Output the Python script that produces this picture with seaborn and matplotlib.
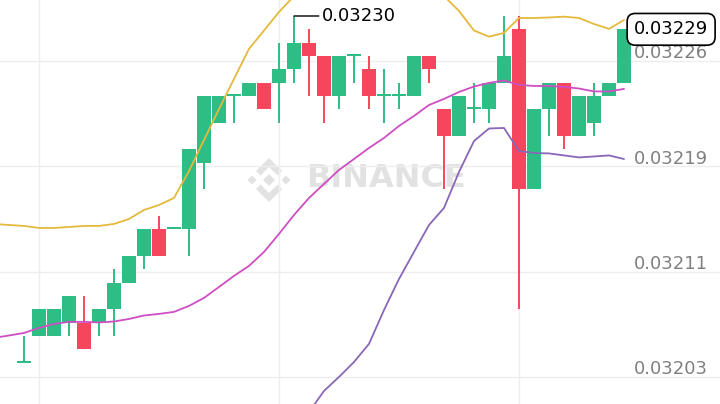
"""
Candlestick chart with Bollinger bands (Binance style), saved to out.png.
"""
import matplotlib
matplotlib.use("Agg")
import matplotlib.pyplot as plt
import matplotlib.patches as mpatches
import numpy as np
import pandas as pd
import seaborn as sns

# ---------------------------------------------------------------------------
# data
# ---------------------------------------------------------------------------
OPEN = [0.03204, 0.03206, 0.03206, 0.03207, 0.03207, 0.03207, 0.03208, 0.03210,
        0.03212, 0.03214, 0.03214, 0.03214, 0.03219, 0.03222, 0.03224, 0.03224,
        0.03225, 0.03225, 0.03226, 0.03228, 0.03227, 0.03224, 0.03227, 0.03226,
        0.03224, 0.03224, 0.03224, 0.03227, 0.03223, 0.03221, 0.03223, 0.03223,
        0.03225, 0.03229, 0.03217, 0.03223, 0.03225, 0.03221, 0.03222, 0.03224,
        0.03225]
HIGH = [0.03206, 0.03208, 0.03208, 0.03209, 0.03209, 0.03208, 0.03211, 0.03212,
        0.03214, 0.03215, 0.03214, 0.03220, 0.03224, 0.03224, 0.03224, 0.03225,
        0.03225, 0.03228, 0.03230, 0.03229, 0.03227, 0.03227, 0.03227, 0.03227,
        0.03226, 0.03225, 0.03227, 0.03227, 0.03223, 0.03224, 0.03225, 0.03225,
        0.03230, 0.03230, 0.03223, 0.03225, 0.03225, 0.03224, 0.03225, 0.03225,
        0.03229]
LOW = [0.03204, 0.03206, 0.03206, 0.03206, 0.03205, 0.03206, 0.03206, 0.03210,
       0.03211, 0.03212, 0.03214, 0.03212, 0.03217, 0.03222, 0.03222, 0.03224,
       0.03223, 0.03222, 0.03225, 0.03224, 0.03222, 0.03223, 0.03225, 0.03223,
       0.03222, 0.03223, 0.03224, 0.03225, 0.03217, 0.03221, 0.03222, 0.03222,
       0.03225, 0.03208, 0.03217, 0.03221, 0.03220, 0.03221, 0.03221, 0.03224,
       0.03225]
CLOSE = [0.03204, 0.03208, 0.03208, 0.03209, 0.03205, 0.03208, 0.03210, 0.03212,
         0.03214, 0.03212, 0.03214, 0.03220, 0.03224, 0.03224, 0.03224, 0.03225,
         0.03223, 0.03226, 0.03228, 0.03227, 0.03224, 0.03227, 0.03227, 0.03224,
         0.03224, 0.03224, 0.03227, 0.03226, 0.03221, 0.03224, 0.03223, 0.03225,
         0.03227, 0.03217, 0.03223, 0.03225, 0.03221, 0.03224, 0.03224, 0.03225,
         0.03229]

# Bollinger bands, upper / middle start two candles before the first visible one
BAND_START = -2
BB_UPPER = [0.0321440, 0.0321432, 0.0321425, 0.0321410, 0.0321410, 0.0321417,
            0.0321425, 0.0321425, 0.0321440, 0.0321477, 0.0321545, 0.0321582,
            0.0321635, 0.0321837, 0.0322070, 0.0322302, 0.0322528, 0.0322753,
            0.0322891, 0.0323030, 0.0323150, 0.0323240, 0.0323293, 0.0323368,
            0.0323420, 0.0323450, 0.0323375, 0.0323323, 0.0323270, 0.0323233,
            0.0323150, 0.0323038, 0.0322891, 0.0322845, 0.0322873, 0.0322985,
            0.0322985, 0.0322989, 0.0322995, 0.0322985, 0.0322940, 0.0322903,
            0.0322970]
BB_MID = [0.0320585, 0.0320603, 0.0320622, 0.0320660, 0.0320690, 0.0320705,
          0.0320705, 0.0320701, 0.0320708, 0.0320727, 0.0320753, 0.0320765,
          0.0320780, 0.0320825, 0.0320885, 0.0320967, 0.0321050, 0.0321125,
          0.0321230, 0.0321365, 0.0321507, 0.0321635, 0.0321740, 0.0321845,
          0.0321927, 0.0322010, 0.0322085, 0.0322175, 0.0322250, 0.0322332,
          0.0322378, 0.0322430, 0.0322471, 0.0322498, 0.0322516, 0.0322483,
          0.0322475, 0.0322475, 0.0322468, 0.0322456, 0.0322434, 0.0322434,
          0.0322453]
LOWER_START = 16
BB_LOWER = [0.0319550, 0.0319669, 0.0319857, 0.0320029, 0.0320187, 0.0320292,
            0.0320404, 0.0320540, 0.0320794, 0.0321027, 0.0321230, 0.0321432,
            0.0321560, 0.0321830, 0.0322062, 0.0322156, 0.0322160, 0.0321987,
            0.0321972, 0.0321969, 0.0321954, 0.0321939, 0.0321946, 0.0321954,
            0.0321927]

GRID_VALUES = [0.0320292, 0.0321080, 0.0321871, 0.0322663]
GRID_LABELS = ["0.03203", "0.03211", "0.03219", "0.03226"]
VGRID_CANDLES = [1, 17, 33]
LAST_LABEL = "0.03229"
HIGH_LABEL = "0.03230"

GREEN = "#2EBD85"
RED = "#F6465D"
C_UPPER = "#E4B93C"
C_MID = "#CE4EC3"
C_LOWER = "#8A66B6"
WATERMARK = "#e2e2e2"

W, H = 720, 404

# ---------------------------------------------------------------------------
# frame
# ---------------------------------------------------------------------------
candles = pd.DataFrame({"open": OPEN, "high": HIGH, "low": LOW, "close": CLOSE})
candles["idx"] = np.arange(len(candles))
candles["up"] = candles["close"] >= candles["open"]

bands = pd.DataFrame({
    "idx": np.arange(BAND_START, BAND_START + len(BB_UPPER)),
    "upper": BB_UPPER,
    "mid": BB_MID,
})
lower = pd.DataFrame({
    "idx": np.arange(LOWER_START, LOWER_START + len(BB_LOWER)),
    "lower": BB_LOWER,
})

sns.set_style("white")
fig = plt.figure(figsize=(W / 100, H / 100), dpi=100)
ax = fig.add_axes([0, 0, 1, 1])
for s in ax.spines.values():
    s.set_visible(False)

ax.set_xlim(-1.6, 46.4)
ax.set_ylim(0.0320089, 0.0323120)

ax.set_yticks(GRID_VALUES)
ax.set_xticks(VGRID_CANDLES)
ax.tick_params(left=False, bottom=False, labelleft=False, labelbottom=False)
ax.grid(True, color="#eeeeee", linewidth=1.0)
ax.set_axisbelow(True)

# watermark -----------------------------------------------------------------
ax.text(386 / W, 1 - 179 / H, "BINANCE", transform=ax.transAxes,
        ha="center", va="center", fontsize=23, fontweight="bold",
        color=WATERMARK, zorder=0.5)


def px_poly(points, cx=269, cy=180):
    return [((cx + px) / W, 1 - (cy - py) / H) for px, py in points]


logo_parts = [
    [(0, 6), (6, 0), (0, -6), (-6, 0)],
    [(-17, 4.5), (-12.5, 0), (-17, -4.5), (-21.5, 0)],
    [(17, 4.5), (21.5, 0), (17, -4.5), (12.5, 0)],
    [(0, 22), (13, 9), (8.5, 4.5), (0, 13), (-8.5, 4.5), (-13, 9)],
    [(0, -22), (13, -9), (8.5, -4.5), (0, -13), (-8.5, -4.5), (-13, -9)],
]
for part in logo_parts:
    ax.add_patch(mpatches.Polygon(px_poly(part), closed=True, transform=ax.transAxes,
                                  facecolor=WATERMARK, edgecolor="none", zorder=0.5))

# candles -------------------------------------------------------------------
min_body = 1.5e-6
colors = np.where(candles["up"], GREEN, RED)
ax.vlines(candles["idx"], candles["low"], candles["high"], colors=colors,
          linewidth=1.4, zorder=2)
body_low = candles[["open", "close"]].min(axis=1)
body_h = (candles["close"] - candles["open"]).abs().clip(lower=min_body)
ax.bar(candles["idx"], body_h, bottom=body_low, width=0.87, color=colors,
       linewidth=0, zorder=2.1)

# bollinger bands -----------------------------------------------------------
sns.lineplot(data=bands, x="idx", y="upper", color=C_UPPER, linewidth=1.3, ax=ax, zorder=3)
sns.lineplot(data=bands, x="idx", y="mid", color=C_MID, linewidth=1.3, ax=ax, zorder=3)
sns.lineplot(data=lower, x="idx", y="lower", color=C_LOWER, linewidth=1.3, ax=ax, zorder=3)
ax.set_xlabel("")
ax.set_ylabel("")

# price labels --------------------------------------------------------------
label_x = 634 / W
for val, lab in zip(GRID_VALUES, GRID_LABELS):
    ax.annotate(lab, xy=(label_x, val), xycoords=("axes fraction", "data"),
                xytext=(0, 2), textcoords="offset points", ha="left", va="baseline",
                fontsize=13, color="#808080", zorder=5)

ax.annotate(LAST_LABEL, xy=(label_x, CLOSE[-1]), xycoords=("axes fraction", "data"),
            ha="left", va="center", fontsize=13, color="black", zorder=6,
            bbox=dict(boxstyle="round,pad=0.38,rounding_size=0.45", fc="white",
                      ec="black", lw=1.2))

hi = int(np.argmax(HIGH))
ax.annotate(HIGH_LABEL, xy=(hi, HIGH[hi]), xytext=(hi + 1.87, HIGH[hi]),
            ha="left", va="center", fontsize=13, color="black", zorder=6,
            arrowprops=dict(arrowstyle="-", color="black", lw=1.0,
                            shrinkA=0, shrinkB=0))

fig.savefig("out.png", dpi=100)
plt.close(fig)
